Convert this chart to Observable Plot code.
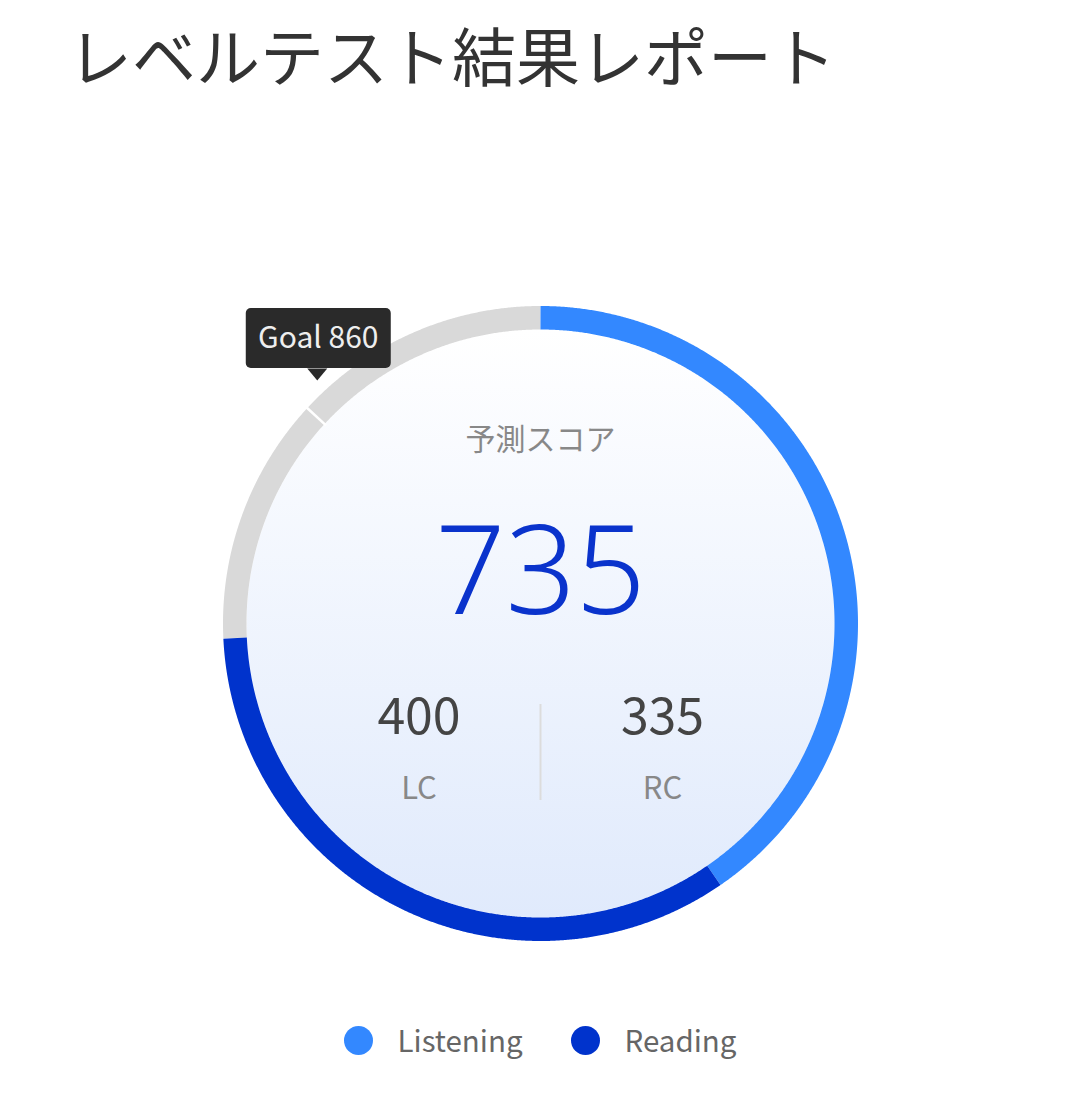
<!DOCTYPE html>
<html>
<head>
<meta charset="utf-8">
<script src="https://cdn.jsdelivr.net/npm/d3@7"></script>
<script src="https://cdn.jsdelivr.net/npm/@observablehq/plot@0.6"></script>
<style>
  html, body { margin: 0; padding: 0; background: #ffffff; }
  body { font-family: "Noto Sans CJK JP", "Noto Sans", sans-serif; }
  #wrap { position: relative; width: 1080px; height: 1095px; overflow: hidden; }
  #title { position: absolute; left: 68px; top: 21px; margin: 0; font-size: 64px; font-weight: 400; line-height: 1; color: #333333; white-space: nowrap; }
  #chart { position: absolute; left: 0; top: 120px; }
  #legend { position: absolute; left: 0; top: 1020px; width: 1080px; height: 40px; display: flex; justify-content: center; align-items: center; }
  .item { display: flex; align-items: center; }
  .sw { width: 29px; height: 29px; border-radius: 50%; margin-right: 25px; }
  .lab { font-size: 29.5px; color: #666666; line-height: 1; }
</style>
</head>
<body>
<div id="wrap">
  <h1 id="title">レベルテスト結果レポート</h1>
  <div id="chart"></div>
  <div id="legend"></div>
</div>
<script>
// ---- data ----
const maxScore = 990;
const sections = ["Listening", "Reading"];
const sectionScores = [400, 335];
const sectionCodes = ["LC", "RC"];
const sectionColors = ["#3388ff", "#0033cc"];
const totalScore = 735;
const goalScore = 860;
const goalLabel = "Goal 860";
const centerTitle = "予測スコア";

// ---- geometry (data units = pixels) ----
const R_OUT = 317.5, R_IN = 294;
const R_MID = (R_OUT + R_IN) / 2;
const RING_W = R_OUT - R_IN;
const ang = v => v / maxScore * 2 * Math.PI;
const polar = (v, r) => ({x: r * Math.sin(ang(v)), y: r * Math.cos(ang(v))});

// arcs: each section, then the remaining grey track
const arcs = [];
let cum = 0;
sections.forEach((s, i) => { arcs.push({series: s, start: cum, end: cum + sectionScores[i]}); cum += sectionScores[i]; });
arcs.unshift({series: "track", start: cum, end: maxScore});
const arcPts = [];
for (const a of arcs) {
  const n = Math.max(2, Math.ceil((a.end - a.start) / maxScore * 1440));
  for (let k = 0; k <= n; k++) {
    const v = a.start + (a.end - a.start) * k / n;
    arcPts.push({series: a.series, ...polar(v, R_MID)});
  }
}

const goalIn = polar(goalScore, R_IN - 2);
const goalOut = polar(goalScore, R_OUT + 2);
const goalPt = polar(goalScore, R_OUT);
const tip = {x: goalPt.x + 10, y: goalPt.y + 27.5};
const tri = [
  {x: tip.x - 10, y: tip.y + 12},
  {x: tip.x, y: tip.y},
  {x: tip.x + 10, y: tip.y + 12}
];

const subs = sections.map((s, i) => ({score: sectionScores[i], code: sectionCodes[i], x: i === 0 ? -121.5 : 122}));

const gradDefs = () => {
  const defs = d3.create("svg:defs");
  const g = defs.append("linearGradient").attr("id", "innerGrad").attr("x1", 0).attr("y1", 0).attr("x2", 0).attr("y2", 1);
  g.append("stop").attr("offset", "0%").attr("stop-color", "#ffffff");
  g.append("stop").attr("offset", "100%").attr("stop-color", "#e0eafc");
  return defs.node();
};

const chart = Plot.plot({
  width: 1080,
  height: 880,
  margin: 0,
  x: {domain: [-540, 540], axis: null},
  y: {domain: [-377, 503], axis: null},
  color: {domain: ["track", ...sections], range: ["#d9d9d9", ...sectionColors]},
  style: {fontFamily: "'Noto Sans CJK JP', 'Noto Sans', sans-serif", background: "transparent", overflow: "visible"},
  marks: [
    gradDefs,
    Plot.dot([{x: 0, y: 0}], {x: "x", y: "y", r: R_IN, fill: "url(#innerGrad)", stroke: "none"}),
    Plot.line(arcPts, {x: "x", y: "y", z: "series", stroke: "series", strokeWidth: RING_W, strokeLinecap: "butt", strokeLinejoin: "round"}),
    Plot.link([0], {x1: () => goalIn.x, y1: () => goalIn.y, x2: () => goalOut.x, y2: () => goalOut.y, stroke: "#ffffff", strokeWidth: 2.5}),
    // centre texts
    Plot.text([centerTitle], {x: 0, y: 183, text: d => d, fontSize: 30, fill: "#888888"}),
    Plot.text([totalScore], {x: 0, y: 48.5, text: d => String(d), fontSize: 123, fontFamily: "'Noto Sans', sans-serif", fontWeight: 300, fill: "#0a33cc"}),
    Plot.ruleX([0], {y1: -81, y2: -177, stroke: "#dcdcdc", strokeWidth: 2}),
    Plot.text(subs, {x: "x", y: -94, text: d => String(d.score), fontSize: 50, fill: "#444444"}),
    Plot.text(subs, {x: "x", y: -166, text: "code", fontSize: 31, fill: "#888888"}),
    // goal tooltip
    Plot.rect([tip], {x1: d => d.x - 71, x2: d => d.x + 74, y1: d => d.y + 12, y2: d => d.y + 72, fill: "#2a2a2a", rx: 5}),
    Plot.line(tri, {x: "x", y: "y", fill: "#2a2a2a", stroke: "none"}),
    Plot.text([tip], {x: d => d.x + 1, y: d => d.y + 42, text: () => goalLabel, fontSize: 30, fill: "#eeeeee"})
  ]
});
document.getElementById("chart").appendChild(chart);

// legend
const legend = d3.select("#legend");
sections.forEach((s, i) => {
  const it = legend.append("div").attr("class", "item").style("margin-left", i === 0 ? "0px" : "48px");
  it.append("div").attr("class", "sw").style("background", sectionColors[i]);
  it.append("div").attr("class", "lab").text(s);
});
</script>
</body>
</html>
